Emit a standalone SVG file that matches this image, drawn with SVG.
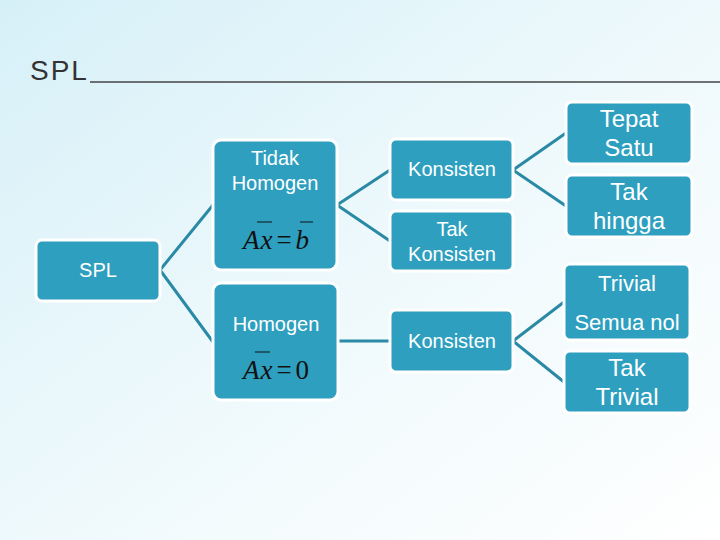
<svg xmlns="http://www.w3.org/2000/svg" width="720" height="540" viewBox="0 0 720 540">
<defs>
<linearGradient id="bg" x1="0" y1="0" x2="1" y2="1">
<stop offset="0" stop-color="#d6f0f8"/><stop offset="0.5" stop-color="#eef9fc"/><stop offset="1" stop-color="#ffffff"/>
</linearGradient>
<style>
.b{fill:#2e9fbf;stroke:#ffffff;stroke-width:3}
.t{font-family:"Liberation Sans",Arial,sans-serif;fill:#ffffff;text-anchor:middle}
.m{font-family:"Liberation Serif","Times New Roman",serif;font-style:italic;fill:#111;font-size:27px;text-anchor:middle}
.c{stroke:#2a8aa5;stroke-width:3;fill:none}
</style>
</defs>
<rect width="720" height="540" fill="url(#bg)"/>
<text x="30" y="80" font-family="Liberation Sans,Arial,sans-serif" font-size="28" fill="#333" letter-spacing="2">SPL</text>
<line x1="90" y1="82" x2="720" y2="82" stroke="#444" stroke-width="1.5"/>
<g id="connectors" class="c">
<polyline points="213,205 160,270 213,342"/>
<polyline points="390,170 337,205 390,241"/>
<line x1="338" y1="341" x2="390" y2="341"/>
<polyline points="566,133 513,170 566,206"/>
<polyline points="564,302 513,341 564,382"/>
</g>
<g id="spl"><rect class="b" x="36" y="240" width="124" height="61" rx="6"/><text class="t" x="98" y="277" font-size="20">SPL</text></g>
<g id="tidak"><rect class="b" x="213" y="140" width="124" height="130" rx="8"/><text class="t" x="275" y="165" font-size="20">Tidak</text><text class="t" x="275" y="190" font-size="20">Homogen</text>
<text class="m" x="276" y="249">A<tspan dx="1">x</tspan><tspan font-style="normal" dx="4">=</tspan><tspan dx="4">b</tspan></text>
<line x1="257" y1="222" x2="272" y2="222" stroke="#111"/><line x1="300" y1="222" x2="313" y2="222" stroke="#111"/></g>
<g id="homogen"><rect class="b" x="213" y="283" width="125" height="117" rx="8"/><text class="t" x="276" y="331" font-size="20">Homogen</text>
<text class="m" x="276" y="379">A<tspan dx="1">x</tspan><tspan font-style="normal" dx="4">=</tspan><tspan font-style="normal" dx="4">0</tspan></text>
<line x1="255" y1="352" x2="270" y2="352" stroke="#111"/></g>
<g id="kons1"><rect class="b" x="390" y="139" width="123" height="61" rx="6"/><text class="t" x="452" y="176" font-size="20">Konsisten</text></g>
<g id="takkons"><rect class="b" x="390" y="211" width="123" height="60" rx="6"/><text class="t" x="452" y="236" font-size="20">Tak</text><text class="t" x="452" y="261" font-size="20">Konsisten</text></g>
<g id="kons2"><rect class="b" x="390" y="310" width="123" height="62" rx="6"/><text class="t" x="452" y="348" font-size="20">Konsisten</text></g>
<g id="tepat"><rect class="b" x="566" y="102" width="126" height="62" rx="6"/><text class="t" x="629" y="127" font-size="24">Tepat</text><text class="t" x="629" y="156" font-size="24">Satu</text></g>
<g id="takhingga"><rect class="b" x="566" y="175" width="126" height="62" rx="6"/><text class="t" x="629" y="200" font-size="24">Tak</text><text class="t" x="629" y="229" font-size="24">hingga</text></g>
<g id="trivial"><rect class="b" x="564" y="264" width="126" height="76" rx="6"/><text class="t" x="627" y="291" font-size="22">Trivial</text><text class="t" x="627" y="330" font-size="22">Semua nol</text></g>
<g id="taktrivial"><rect class="b" x="564" y="351" width="126" height="62" rx="6"/><text class="t" x="627" y="376" font-size="24">Tak</text><text class="t" x="627" y="405" font-size="24">Trivial</text></g>
</svg>
